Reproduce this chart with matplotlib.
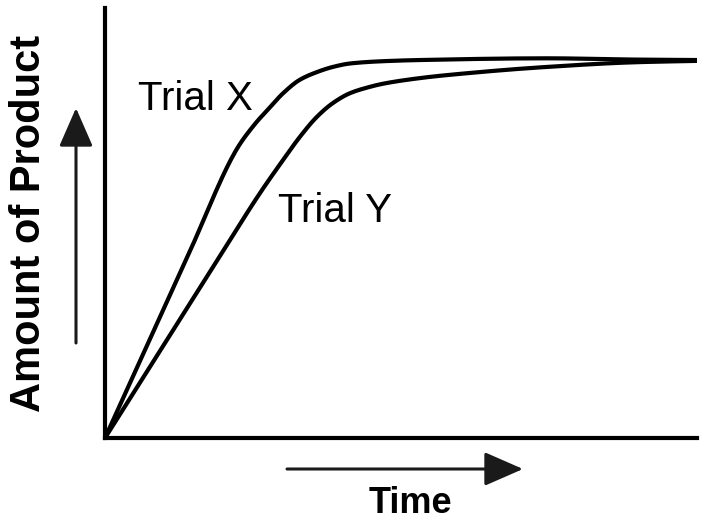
import numpy as np
import matplotlib
matplotlib.use('Agg')
from matplotlib import pyplot as plt
from matplotlib.patches import FancyArrowPatch

# curve readings (time 0-100, product 0-100)
time_x = [0, 14.4, 21.6, 23.0, 24.5, 25.8, 27.4, 30.1, 32.9, 35.8, 38.5, 41.4, 46.5, 53.2, 74.7, 89.9, 100]
prod_x = [0, 43.6, 65.6, 68.8, 71.6, 73.8, 76.2, 80.2, 83.3, 85.1, 86.3, 87.1, 87.6, 87.9, 88.3, 88.0, 87.9]

time_y = [0, 19.1, 26.2, 30.1, 32.9, 35.8, 38.5, 41.4, 44.3, 47.0, 53.2, 57.8, 74.7, 89.9, 100]
prod_y = [0, 41.6, 57.0, 64.7, 70.0, 74.7, 77.9, 80.2, 81.5, 82.4, 83.7, 84.4, 86.3, 87.4, 87.7]

labels = ['Trial X', 'Trial Y']
x_label = 'Time'
y_label = 'Amount of Product'


# monotone cubic through the read points, only so the drawn line is smooth
def smooth(xs, ys, n=20):
    x = np.asarray(xs, float)
    y = np.asarray(ys, float)
    h = np.diff(x)
    d = np.diff(y) / h
    m = np.zeros_like(x)
    m[0], m[-1] = d[0], d[-1]
    for k in range(1, len(x) - 1):
        if d[k - 1] * d[k] > 0:
            w1 = 2 * h[k] + h[k - 1]
            w2 = h[k] + 2 * h[k - 1]
            m[k] = (w1 + w2) / (w1 / d[k - 1] + w2 / d[k])
    px, py = [], []
    for k in range(len(x) - 1):
        t = np.linspace(0, 1, n, endpoint=False)
        h00 = 2 * t ** 3 - 3 * t ** 2 + 1
        h10 = t ** 3 - 2 * t ** 2 + t
        h01 = -2 * t ** 3 + 3 * t ** 2
        h11 = t ** 3 - t ** 2
        px.append(x[k] + t * h[k])
        py.append(h00 * y[k] + h10 * h[k] * m[k] + h01 * y[k + 1] + h11 * h[k] * m[k + 1])
    px.append([x[-1]])
    py.append([y[-1]])
    return np.concatenate(px), np.concatenate(py)


W, H = 704, 526
fig = plt.figure(figsize=(W / 100, H / 100), dpi=100)

def fx(px):
    return px / W

def fy(py):
    return 1 - py / H

ax = fig.add_axes([fx(105), fy(438), (697 - 105) / W, (438 - 8) / H])
sx, sy = smooth(time_x, prod_x)
ax.plot(sx, sy, c='black', lw=3.0, solid_capstyle='round', solid_joinstyle='round')
sx, sy = smooth(time_y, prod_y)
ax.plot(sx, sy, c='black', lw=3.0, solid_capstyle='round', solid_joinstyle='round')
ax.set_xlim(0, 100)
ax.set_ylim(0, 100)
ax.spines['top'].set_visible(False)
ax.spines['right'].set_visible(False)
ax.spines['left'].set_linewidth(3.0)
ax.spines['bottom'].set_linewidth(3.0)
ax.set_xticks([])
ax.set_yticks([])

# curve labels
fig.text(fx(138), fy(110), labels[0], fontsize=29, family='Liberation Sans', ha='left', va='baseline')
fig.text(fx(278), fy(222), labels[1], fontsize=29, family='Liberation Sans', ha='left', va='baseline')

# axis titles
fig.text(fx(410), fy(513), x_label, fontsize=26, fontweight='bold', family='Liberation Sans',
         ha='center', va='baseline')
fig.text(fx(40), fy(223), y_label, fontsize=30, fontweight='bold', family='Liberation Sans',
         ha='center', va='baseline', rotation=90, rotation_mode='anchor')

# direction arrows
arrow_style = '-|>,head_length=24,head_width=10.5'
fig.patches.append(FancyArrowPatch((fx(287), fy(469)), (fx(523), fy(469)), transform=fig.transFigure,
                                   arrowstyle=arrow_style, mutation_scale=1, lw=2.2, color='#1a1a1a',
                                   shrinkA=0, shrinkB=0))
fig.patches.append(FancyArrowPatch((fx(76), fy(343)), (fx(76), fy(108)), transform=fig.transFigure,
                                   arrowstyle=arrow_style, mutation_scale=1, lw=2.2, color='#1a1a1a',
                                   shrinkA=0, shrinkB=0))

plt.savefig('out.png', dpi=100)
